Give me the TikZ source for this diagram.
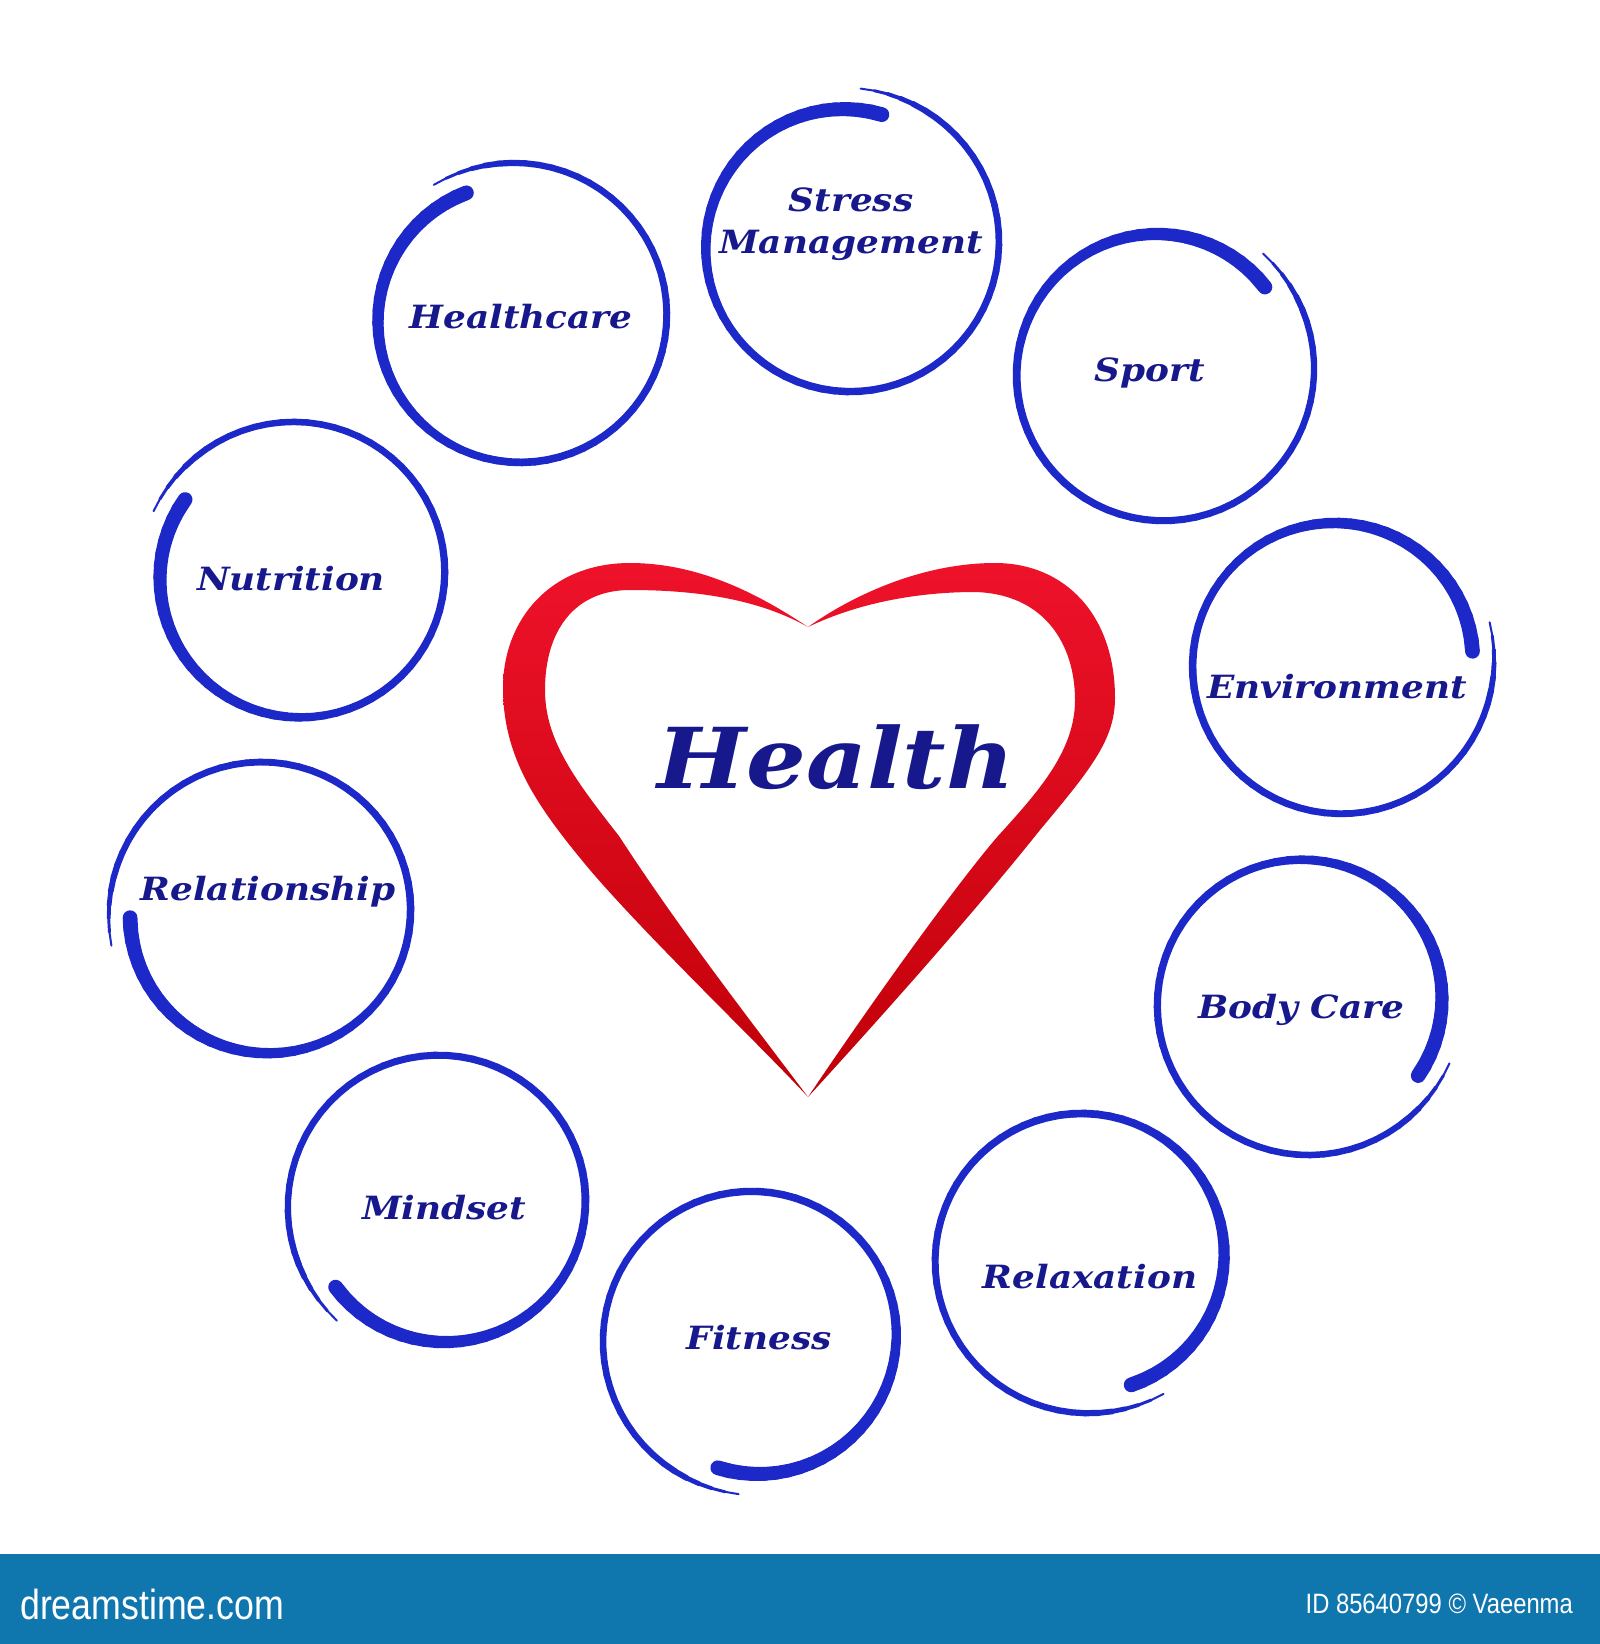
\documentclass[tikz,border=0pt]{standalone}
\usepackage{fontspec}
\newfontfamily\handfont[FakeStretch=1.12]{DejaVu Serif}
\newfontfamily\footfont[FakeStretch=0.85]{Liberation Sans}
\definecolor{ringblue}{RGB}{28,40,200}
\definecolor{inkblue}{RGB}{22,24,140}
\definecolor{heartTop}{RGB}{238,18,42}
\definecolor{heartBot}{RGB}{192,0,8}
\definecolor{barblue}{RGB}{16,118,174}
\newcommand{\brushring}[4]{%
  \foreach \i in {0,...,73}{%
    \pgfmathsetmacro{\ta}{\i/74}%
    \pgfmathsetmacro{\tb}{(\i+1)/74}%
    \pgfmathsetmacro{\aa}{#4+370*\ta}%
    \pgfmathsetmacro{\ab}{#4+370*\tb}%
    \pgfmathsetmacro{\ra}{#3+11-22*\ta}%
    \pgfmathsetmacro{\rb}{#3+11-22*\tb}%
    \pgfmathsetmacro{\wd}{2+4*min(\ta/0.06,1)+3*\ta+6*max(0,(\ta-0.62)/0.38)}%
    \draw[ringblue, line cap=round, line width=\wd pt]
      ({#1+\ra*cos(\aa)},{#2+\ra*sin(\aa)}) -- ({#1+\rb*cos(\ab)},{#2+\rb*sin(\ab)});
  }%
}
\tikzset{
  lbl/.style={font=\handfont\bfseries\itshape\fontsize{32}{42}\selectfont, text=inkblue, align=center, inner sep=0pt},
}
\begin{document}
\begin{tikzpicture}[x=1pt,y=-1pt]
\useasboundingbox (0,0) rectangle (1600,1644);
\fill[white] (0,0) rectangle (1600,1644);

% heart
\shade[top color=heartTop, bottom color=heartBot, even odd rule]
  (808,627) .. controls (760,595) and (700,563) .. (630,563)
  .. controls (550,563) and (503,620) .. (503,688)
  .. controls (503,760) and (540,810) .. (590,870)
  .. controls (650,940) and (760,1045) .. (808,1097)
  .. controls (860,1040) and (960,930) .. (1040,830)
  .. controls (1090,770) and (1115,740) .. (1115,698)
  .. controls (1115,615) and (1065,563) .. (995,563)
  .. controls (920,563) and (850,597) .. (808,627) -- cycle
  (808,627) .. controls (860,602) and (920,592) .. (975,592)
  .. controls (1045,594) and (1075,645) .. (1075,700)
  .. controls (1075,750) and (1040,790) .. (998,836)
  .. controls (960,880) and (880,990) .. (808,1097)
  .. controls (750,1020) and (680,930) .. (619,836)
  .. controls (575,780) and (545,740) .. (545,690)
  .. controls (545,630) and (575,590) .. (630,590)
  .. controls (700,590) and (760,600) .. (808,627) -- cycle;

\node[font=\handfont\bfseries\itshape\fontsize{84}{90}\selectfont, text=inkblue, inner sep=0pt] (health) at (836,757) {Health};

% rings
\brushring{517}{318}{146}{238}
\brushring{847}{245}{146}{275}
\brushring{1160}{372}{146}{311}
\brushring{1338}{663}{146}{345}
\brushring{1305}{1002}{146}{23}
\brushring{1085}{1258}{146}{60}
\brushring{755}{1338}{146}{96}
\brushring{442}{1204}{146}{132}
\brushring{265}{913}{146}{168}
\brushring{297}{575}{146}{204}

% labels
\node[lbl] (healthcare) at (521,317) {Healthcare};
\node[lbl] (stress) at (851,224) {Stress\\Management};
\node[lbl] (sport) at (1150,373) {Sport};
\node[lbl] (environment) at (1337,687) {Environment};
\node[lbl] (bodycare) at (1301,1010) {Body Care};
\node[lbl] (relaxation) at (1090,1277) {Relaxation};
\node[lbl] (fitness) at (759,1338) {Fitness};
\node[lbl] (mindset) at (444,1208) {Mindset};
\node[lbl] (relationship) at (268,892) {Relationship};
\node[lbl] (nutrition) at (291,579) {Nutrition};

% footer bar
\fill[barblue] (0,1554) rectangle (1600,1644);
\node[font=\footfont\fontsize{42}{46}\selectfont, text=white, anchor=west, inner sep=0pt] (brand) at (20,1604) {dreamstime.com};
\node[font=\footfont\fontsize{28}{32}\selectfont, text=white, anchor=east, inner sep=0pt] (imgid) at (1573,1604) {ID 85640799 © Vaeenma};
\end{tikzpicture}
\end{document}
